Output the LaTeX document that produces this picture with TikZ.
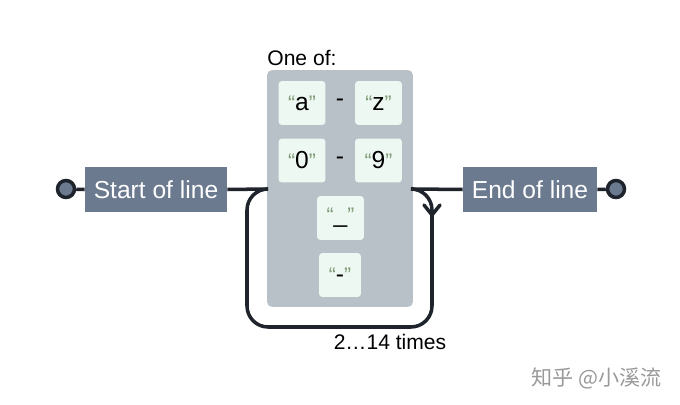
\documentclass[tikz,border=0pt]{standalone}
\usepackage{fontspec}
\setmainfont{Liberation Sans}
\newfontfamily\cjk{Noto Sans CJK SC}
\begin{document}
\begin{tikzpicture}[x=0.02cm,y=-0.02cm,
  term/.style={fill=slate,text=white,font=\fontsize{14}{16}\selectfont,inner sep=0},
  lit/.style={fill=litbg,rounded corners=2pt,minimum width=0.94cm,minimum height=0.88cm,inner sep=0,font=\fontsize{14}{16}\selectfont},
  wire/.style={line width=2pt,draw=wirec},
  endp/.style={circle,draw=wirec,line width=2pt,fill=endf,minimum size=0.34cm,inner sep=0}]
\definecolor{slate}{HTML}{6B7A8F}
\definecolor{wirec}{HTML}{1F232B}
\definecolor{endf}{HTML}{6B7A8F}
\definecolor{grp}{HTML}{B8C0C8}
\definecolor{litbg}{HTML}{EEF8F3}
\definecolor{qc}{HTML}{7E9A72}
\newcommand{\q}[1]{{\color{qc}\fontsize{12}{12}\selectfont “}#1{\color{qc}\fontsize{12}{12}\selectfont ”}}
\useasboundingbox (0,0) rectangle (680,405);
\node[anchor=south west,inner sep=0,font=\fontsize{12}{14}\selectfont] (lbl) at (267,66) {One of:};
\node[fill=grp,rounded corners=3pt,minimum width=2.92cm,minimum height=4.74cm,inner sep=0] (grp) at (340,188.5) {};
\node[lit] (a) at (302,103) {\q{a}};
\node[lit] (z) at (378.5,103) {\q{z}};
\node[lit] (n0) at (302,160.5) {\q{0}};
\node[lit] (n9) at (378.5,160.5) {\q{9}};
\node[lit] (us) at (340.5,218) {\q{\_}};
\node[lit,minimum width=0.84cm] (hy) at (340,275) {\q{-}};
\node[font=\fontsize{14}{16}\selectfont] (d1) at (340,103) {-};
\node[font=\fontsize{14}{16}\selectfont] (d2) at (340,160.5) {-};
\node[term,minimum width=2.84cm,minimum height=0.9cm] (start) at (156,189.5) {Start of line};
\node[term,minimum width=2.68cm,minimum height=0.9cm] (end) at (530,189.5) {End of line};
\node[endp] (c1) at (66,189) {};
\node[endp] (c2) at (616,189) {};
\coordinate (gl) at (267,189);
\coordinate (gr) at (413,189);
\draw[wire] (c1) -- (start.west);
\draw[wire] (start.east) -- (gl);
\draw[wire] (gr) -- (end.west);
\draw[wire] (end.east) -- (c2);
\draw[wire,rounded corners=12pt] (gl) -- (247,189) -- (247,327) -- (432,327) -- (432,189) -- (gr);
\draw[wire,line cap=round] (424,205) -- (432,215) -- (440,205);
\node[anchor=north,inner sep=0,font=\fontsize{12}{14}\selectfont] (times) at (390,334) {2…14 times};
\node[anchor=east,inner sep=0,text=gray!80,font=\cjk\fontsize{12}{15}\selectfont] (wm) at (662,378) {知乎 @小溪流};
\end{tikzpicture}
\end{document}
